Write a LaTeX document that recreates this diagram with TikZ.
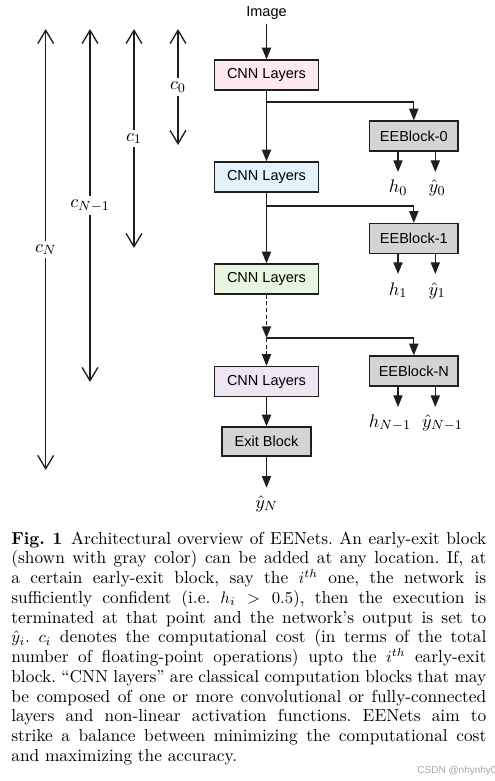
\documentclass[tikz,border=0pt]{standalone}
\usepackage{fontspec}
\setsansfont{Liberation Sans}
\usetikzlibrary{arrows.meta}
\definecolor{cnnpink}{HTML}{FDE9EE}
\definecolor{cnnblue}{HTML}{E3F2FB}
\definecolor{cnngreen}{HTML}{E8F5DF}
\definecolor{cnnlav}{HTML}{EEE6F2}
\definecolor{eegray}{HTML}{D4D4D4}
\definecolor{linecol}{HTML}{1E1E1E}
\begin{document}
\begin{tikzpicture}[x=0.6pt,y=-0.6pt,
  blk/.style={draw=linecol,line width=0.75pt,minimum height=18pt,inner sep=0pt,
    font=\sffamily\fontsize{8.7}{10}\selectfont},
  cnn/.style={blk,minimum width=62pt},
  ee/.style={blk,minimum width=53pt,fill=eegray},
  flow/.style={draw=linecol,line width=0.8pt,-{Triangle[length=7pt,width=5.5pt]}},
  cost/.style={draw=linecol,line width=0.8pt,
    {Straight Barb[length=8pt,width=9.5pt,line width=0.8pt]}-{Straight Barb[length=8pt,width=9.5pt,line width=0.8pt]}},
  lbl/.style={inner sep=0pt,text height=12pt,text depth=2.5pt,font=\fontsize{11}{12}\selectfont},
  clbl/.style={fill=white,inner sep=2pt,font=\fontsize{11}{12}\selectfont},
]
\useasboundingbox (0,0) rectangle (495,781);

% main column
\node[font=\sffamily\fontsize{8.7}{10}\selectfont,inner sep=0pt,text depth=0pt,outer sep=4pt] (img) at (266.5,12) {Image};
\node[cnn,fill=cnnpink] (cnn1) at (266.5,75) {CNN Layers};
\node[ee] (ee0) at (413.8,136) {EEBlock-0};
\node[cnn,fill=cnnblue] (cnn2) at (266.5,177) {CNN Layers};
\node[ee] (ee1) at (413.8,238.5) {EEBlock-1};
\node[cnn,fill=cnngreen] (cnn3) at (266.5,279) {CNN Layers};
\node[ee] (eeN) at (413.8,371) {EEBlock-N};
\node[cnn,fill=cnnlav] (cnn4) at (266.5,381.5) {CNN Layers};
\node[ee,minimum width=53.4pt,minimum height=17.4pt] (exit) at (266.5,441.5) {Exit Block};

% junctions
\coordinate (j0) at (266.5,102);
\coordinate (j1) at (266.5,206);
\coordinate (jN) at (266.5,338);

\draw[flow] (img) -- (cnn1.north);
\draw[flow] (cnn1.south) -- (cnn2.north);
\draw[flow] (j0) -| (ee0.north);
\draw[flow] (cnn2.south) -- (cnn3.north);
\draw[flow] (j1) -| (ee1.north);
\draw[flow,dash pattern=on 2.4pt off 1.6pt] (cnn3.south) -- (jN);
\draw[flow] (jN) -| (eeN.north);
\draw[flow,dash pattern=on 2.4pt off 1.6pt] (jN) -- (cnn4.north);
\draw[flow] (cnn4.south) -- (exit.north);

% outputs
\node[lbl,anchor=base] (h0) at (398,193) {$h_0$};
\node[lbl,anchor=base] (y0) at (437,193) {$\hat{y}_0$};
\node[lbl,anchor=base] (h1) at (398,295) {$h_1$};
\node[lbl,anchor=base] (y1) at (437,295) {$\hat{y}_1$};
\node[lbl,anchor=base] (hN) at (390,427) {$h_{N-1}$};
\node[lbl,anchor=base] (yN1) at (442.5,427) {$\hat{y}_{N-1}$};
\node[lbl,anchor=base] (yN) at (266.5,508) {$\hat{y}_N$};

\coordinate (th0) at (398,172);
\coordinate (ty0) at (435.3,172);
\coordinate (th1) at (398,274);
\coordinate (ty1) at (435.3,274);
\coordinate (thN) at (398,407);
\coordinate (tyN) at (435.3,407);
\draw[flow] (ee0.south -| th0) -- (th0);
\draw[flow] (ee0.south -| ty0) -- (ty0);
\draw[flow] (ee1.south -| th1) -- (th1);
\draw[flow] (ee1.south -| ty1) -- (ty1);
\draw[flow] (eeN.south -| thN) -- (thN);
\draw[flow] (eeN.south -| tyN) -- (tyN);
\draw[flow] (exit.south) -- (yN.north);

% cost arrows
\coordinate (c0t) at (178,29);   \coordinate (c0b) at (178,145);
\coordinate (c1t) at (134,29);   \coordinate (c1b) at (134,248);
\coordinate (cN1t) at (90,29);   \coordinate (cN1b) at (90,382);
\coordinate (cNt) at (45.7,29);  \coordinate (cNb) at (45.7,470);
\draw[cost] (c0t) -- (c0b) node[clbl,midway] (c0l) {$c_0$};
\draw[cost] (c1t) -- (c1b) node[clbl,midway] (c1l) {$c_1$};
\draw[cost] (cN1t) -- (cN1b) node[clbl,midway] (cN1l) {$c_{N-1}$};
\draw[cost] (cNt) -- (cNb) node[clbl,midway] (cNl) {$c_N$};

% caption
\node[anchor=base west,inner sep=0pt,text width=285pt,align=justify,
  font=\fontsize{10.4}{11.85}\selectfont] (cap) at (11,544) {\frenchspacing\hyphenpenalty=10000\tolerance=9999
\textbf{Fig. 1}\enspace Architectural overview of EENets. An early-exit block\linebreak
(shown with gray color) can be added at any location. If, at\linebreak
a certain early-exit block, say the $i^{th}$ one, the network is\linebreak
sufficiently confident (i.e. $h_i > 0.5$), then the execution is\linebreak
terminated at that point and the network's output is set to\linebreak
$\hat{y}_i$. $c_i$ denotes the computational cost (in terms of the total\linebreak
number of floating-point operations) upto the $i^{th}$ early-exit\linebreak
block. ``CNN layers'' are classical computation blocks that may\linebreak
be composed of one or more convolutional or fully-connected\linebreak
layers and non-linear activation functions. EENets aim to\linebreak
strike a balance between minimizing the computational cost\linebreak
and maximizing the accuracy.};

% watermark
\node[text=black!35,font=\sffamily\fontsize{6}{7}\selectfont,inner sep=0pt] (wm) at (457,771) {CSDN @nhynhy0};
\end{tikzpicture}
\end{document}
